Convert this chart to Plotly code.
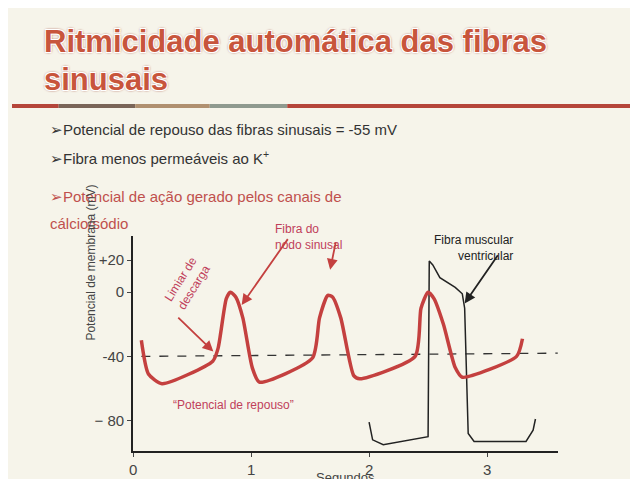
import plotly.graph_objects as go

# Red curve: sinus-node fibre (time s, mV)
sn_t = [0.07,0.13,0.245,0.675,0.72,0.79,0.825,0.87,0.93,1.01,1.07,1.52,1.58,1.65,1.69,1.76,1.87,1.92,2.39,2.44,2.5,2.55,2.63,2.73,2.79,3.25,3.3]
sn_v = [-30,-51,-57,-43,-35,-4,0,-3,-16,-47,-56,-41,-16,-2,-3,-16,-52,-54,-40,-10,0,-4,-20,-47,-53,-40,-29]
# Black curve: ventricular muscle fibre
vm_t = [2.0,2.03,2.12,2.5,2.51,2.54,2.6,2.73,2.79,2.81,2.84,2.89,3.33,3.39,3.41]
vm_v = [-81,-92,-95,-90,19.5,17,9,3,-1,-10,-88,-93,-93,-86,-79]
thr_t = [0.07, 3.6]
thr_v = [-40, -38]
y_ticks = [-80, -40, 0, 20]
y_labels = ["− 80", "-40", "0", "+20"]
x_ticks = [0, 1, 2, 3]

RED = "#c4403f"
fig = go.Figure()
fig.add_trace(go.Scatter(x=thr_t, y=thr_v, mode="lines", line=dict(color="#333", width=1.3, dash="dash")))
fig.add_trace(go.Scatter(x=vm_t, y=vm_v, mode="lines", line=dict(color="#222", width=1.5)))
fig.add_trace(go.Scatter(x=sn_t, y=sn_v, mode="lines", line=dict(color=RED, width=3.5, shape="spline", smoothing=0.6)))

fig.update_layout(
    width=638, height=479, margin=dict(l=0, r=0, t=0, b=0), showlegend=False,
    paper_bgcolor="#f6f4ea", plot_bgcolor="rgba(0,0,0,0)",
    xaxis=dict(domain=[0.191, 0.861], range=[0, 3.6], tickvals=x_ticks, showgrid=False, zeroline=False,
               showline=True, linecolor="#222", linewidth=2, ticks="outside", ticklen=4,
               tickfont=dict(size=15, color="#444", family="Liberation Sans")),
    yaxis=dict(domain=[0.075, 0.524], range=[-99, 35], tickvals=y_ticks, ticktext=y_labels, showgrid=False,
               zeroline=False, showline=True, linecolor="#222", linewidth=2, ticks="outside", ticklen=4,
               tickfont=dict(size=15, color="#444", family="Liberation Sans")),
)

shadow = "-1px -1px 0 #fff,1px -1px 0 #fff,-1px 1px 0 #fff,1px 1px 0 #fff,0 0 3px #8e2f24,0 0 2px #8e2f24"
for txt, y in [("Ritmicidade automática das fibras", 33), ("sinusais", 71)]:
    fig.add_annotation(x=30/638, y=1-y/479, xref="paper", yref="paper", text="<b>"+txt+"</b>", showarrow=False,
                       xanchor="left", yanchor="middle",
                       font=dict(size=31, color="#c8553c", family="Liberation Sans", shadow=shadow))

# stripe
segs = [(0, 47, "#b5453a"), (47, 124, "#7a6558"), (124, 199, "#b09070"), (199, 277, "#8f9a8f"), (277, 638, "#b5453a")]
for x0, x1, c in segs:
    fig.add_shape(type="rect", xref="paper", yref="paper", x0=x0/638, x1=x1/638, y0=1-100/479, y1=1-96/479,
                  fillcolor=c, line_width=0)

bullets = [("➢Potencial de repouso das fibras sinusais = -55 mV", 122, "#333"),
           ("➢Fibra menos permeáveis ao K<sup>+</sup>", 150, "#333"),
           ("➢Potencial de ação gerado pelos canais de", 188, "#c0504d"),
           ("cálcio/sódio", 216, "#c0504d")]
for txt, y, c in bullets:
    fig.add_annotation(x=36/638, y=1-y/479, xref="paper", yref="paper", text=txt, showarrow=False,
                       xanchor="left", yanchor="middle", font=dict(size=15, color=c, family="Liberation Sans"))

fig.add_annotation(x=70/638, y=1-335/479, xref="paper", yref="paper", text="Potencial de membrana (mV)",
                   textangle=-90, showarrow=False, font=dict(size=12, color="#444", family="Liberation Sans"))
fig.add_annotation(x=336/638, y=1-479/479, xref="paper", yref="paper", text="Segundos", showarrow=False,
                   yanchor="bottom", font=dict(size=13, color="#444", family="Liberation Sans"))

lab = dict(size=12, family="Liberation Sans")
fig.add_annotation(x=298/638, y=1-229/479, xref="paper", yref="paper", text="Fibra do<br>nodo sinusal",
                   showarrow=False, align="left", font=dict(lab, color="#c0405a"))
fig.add_annotation(x=506/638, y=1-240/479, xref="paper", yref="paper", text="Fibra muscular<br>ventricular",
                   showarrow=False, align="right", font=dict(lab, color="#222"))
fig.add_annotation(x=0.46, y=6, text="Limiar de<br>descarga", showarrow=False, textangle=-58,
                   font=dict(lab, color="#c0405a"))
fig.add_annotation(x=0.85, y=-70, text="\u201cPotencial de repouso\u201d", showarrow=False,
                   font=dict(lab, color="#c0405a"))
arrows = [(0.92, -8, 1.32, 34, RED), (1.67, 14, 1.72, 32, RED), (0.68, -37, 0.37, -15, RED), (2.81, -7, 3.1, 24, "#222")]
for x, y, ax, ay, c in arrows:
    fig.add_annotation(x=x, y=y, ax=ax, ay=ay, axref="x", ayref="y", text="", showarrow=True,
                       arrowhead=2, arrowsize=1.2, arrowwidth=1.8, arrowcolor=c)

fig.write_html("out.html")
